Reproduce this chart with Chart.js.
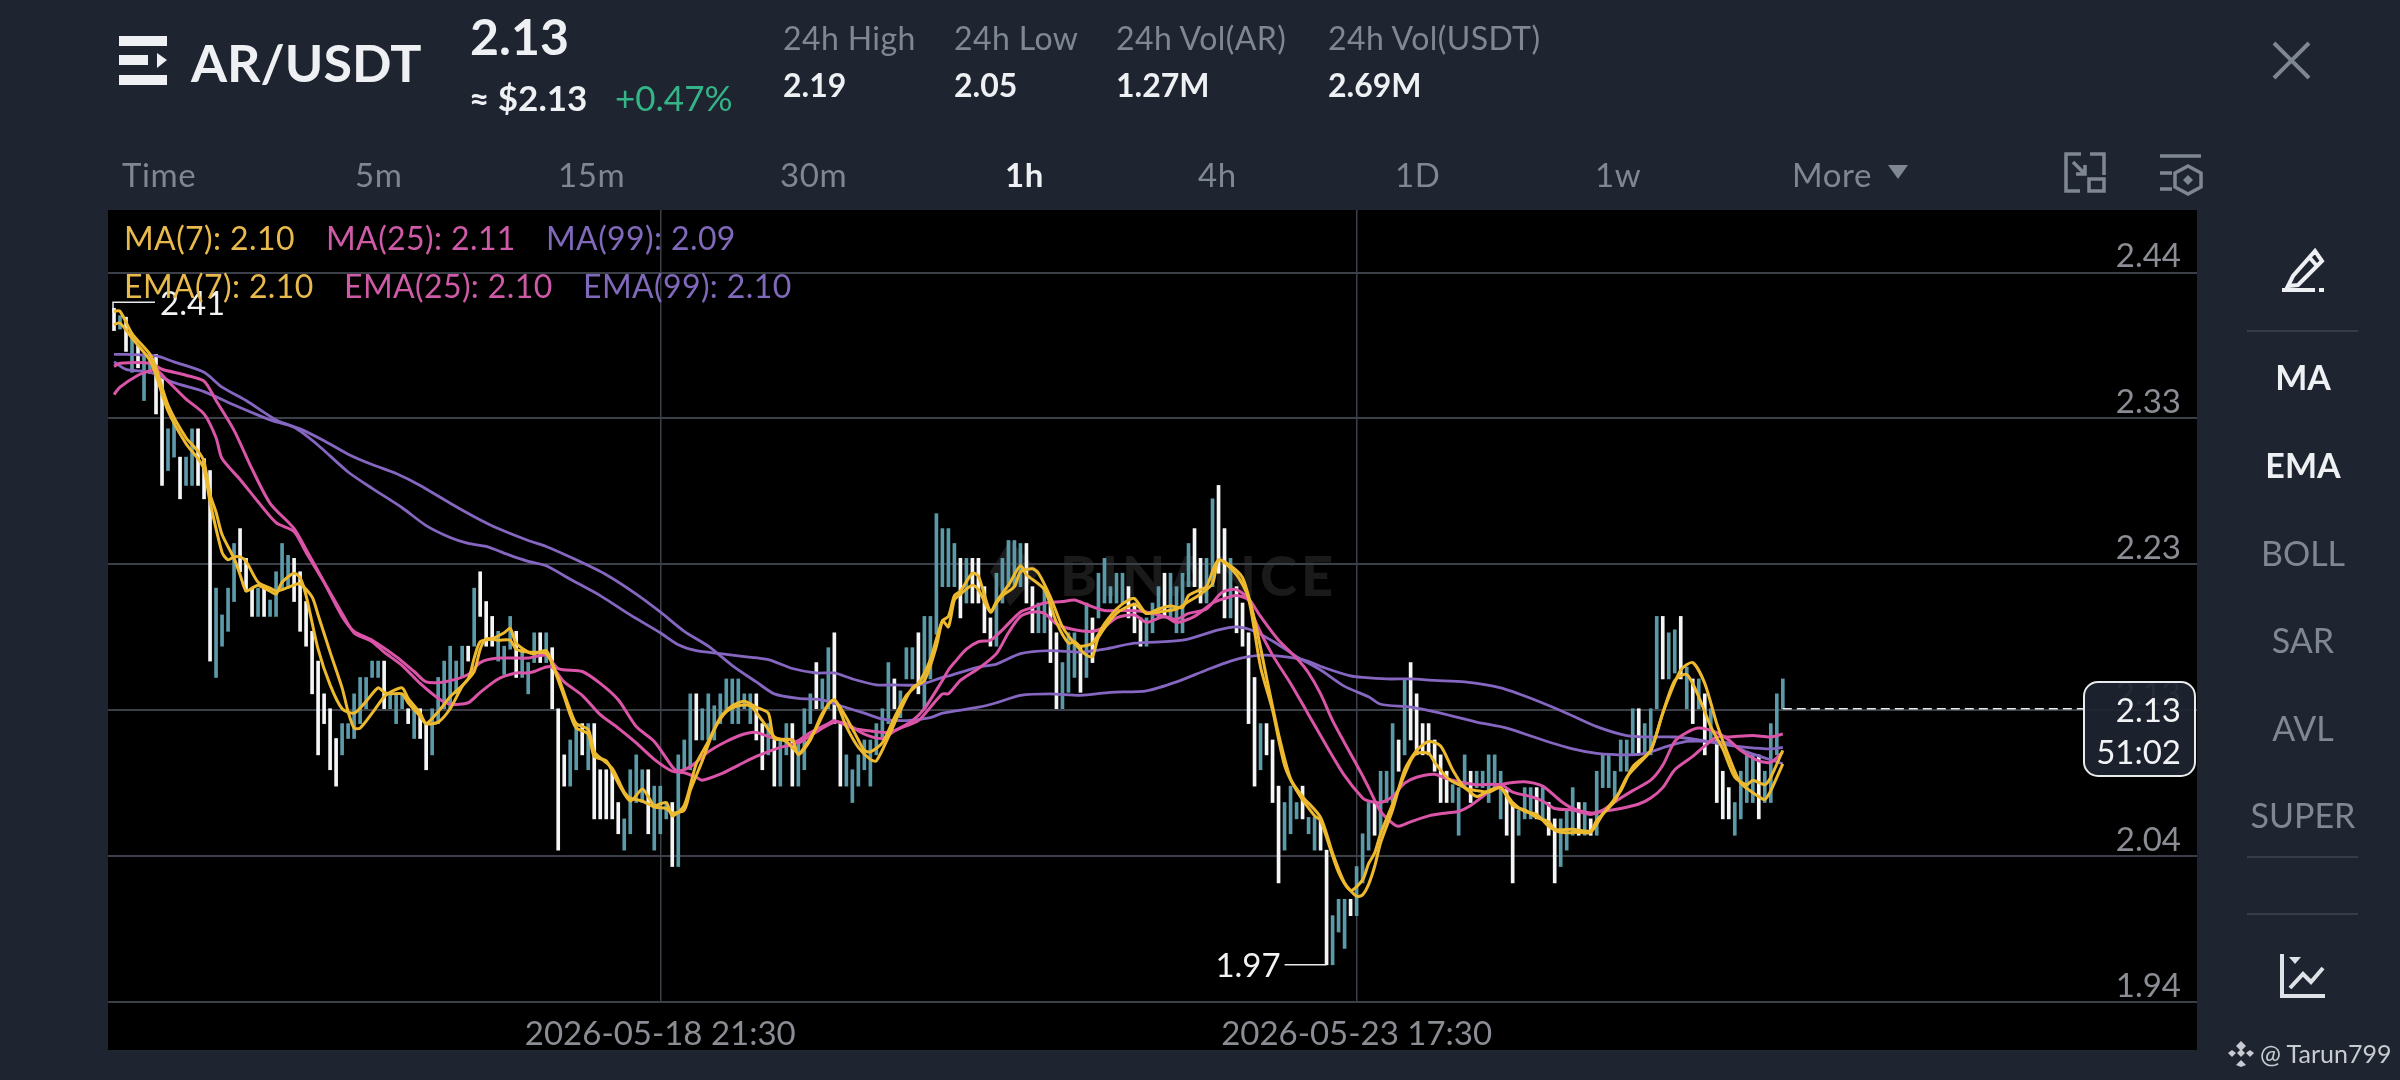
<!DOCTYPE html>
<html>
<head>
<meta charset="utf-8">
<title>AR/USDT</title>
<script src="https://cdn.jsdelivr.net/npm/chart.js@4/dist/chart.umd.min.js"></script>
<style>
html, body { margin: 0; padding: 0; width: 2400px; height: 1080px; overflow: hidden; background: #1e2530; font-family: Lato, "Open Sans", sans-serif; }
.t { position: absolute; white-space: nowrap; transform: translateY(-50%); line-height: 1; }
.gray { color: #7f8793; }
.white { color: #eef0f3; }
.tab { font-size: 33px; color: #7f8793; letter-spacing: 0.6px; }
.side { font-size: 34px; color: #7f8793; width: 160px; left: 2223px; text-align: center; }
.head { font-size: 32px; color: #7f8793; letter-spacing: 0.4px; }
.val { font-size: 32px; color: #eef0f3; font-weight: 700; }
.leg { font-size: 32px; letter-spacing: 0.4px; }
#plotBg { position: absolute; left: 108px; top: 210px; width: 2089px; height: 840px; background: #000; }
#mark { position: absolute; left: 1060px; top: 575px; font-size: 56px; font-weight: 900; color: #1a1a1a; letter-spacing: 4px; }
#plot { position: absolute; left: 108px; top: 210px; }
#priceBox { position: absolute; left: 2083px; top: 681px; width: 113px; height: 96px; box-sizing: border-box; border: 2px solid #e8eaec; border-radius: 15px; background: rgba(30,37,48,0.93); color: #f2f3f5; font-size: 33px; text-align: right; padding: 5px 13px 0 0; line-height: 42px; }
svg.icons { position: absolute; left: 0; top: 0; }
</style>
</head>
<body>
<div id="plotBg"></div>
<svg class="icons" width="2400" height="1080">
  <path d="M990 572 L1010 540 L1040 572 L1010 606 Z" fill="#1a1a1a"/>
</svg>
<div class="t" id="mark">BINANCE</div>
<canvas id="plot" width="2089" height="840"></canvas>

<svg class="icons" width="2400" height="1080">
  <g fill="#eef0f3">
    <rect x="119" y="36" width="48" height="10"/><rect x="119" y="55" width="29" height="10"/><rect x="119" y="75" width="48" height="10"/>
    <path d="M157 53 L167 60 L157 68 Z"/>
  </g>
  <path d="M2274 43 L2309 78 M2309 43 L2274 78" stroke="#7f8793" stroke-width="4" fill="none"/>
  <path d="M1888 165 H1908 L1898 179 Z" fill="#7f8793"/>
  <g fill="none" stroke="#7f8793" stroke-width="3.5">
    <path d="M2081 154 H2066 V191 H2080 M2090 154 H2104 V175"/>
    <rect x="2089" y="179" width="15" height="12"/>
    <path d="M2073 162 L2085 174 M2085 165 V174 H2076"/>
    <path d="M2160 156 H2201"/>
    <path d="M2160 173 H2172 M2160 189 H2172"/>
    <path d="M2188 166 L2201 173 V187 L2188 194 L2175 187 V173 Z"/>
  </g>
  <path d="M2188 175 L2193 180 L2188 185 L2183 180 Z" fill="#7f8793"/>
  <g fill="none" stroke="#eef0f3" stroke-width="4">
    <path d="M2293 276 L2288 286 L2298 285 L2322 261 L2315 251 Z"/>
    <path d="M2309 257 L2318 267"/>
  </g>
  <path d="M2282 290 H2315 M2319 290 H2324" stroke="#eef0f3" stroke-width="4"/>
  <path d="M2247 331 H2358 M2247 857 H2358 M2247 914 H2358" stroke="#363d48" stroke-width="2"/>
  <g fill="none" stroke="#dfe2e6" stroke-width="4">
    <path d="M2282 954 V996 H2325"/>
    <path d="M2290 988 L2303 974 L2311 982 L2323 968"/>
  </g>
  <path d="M2289 957 H2301 L2295 964 Z" fill="#dfe2e6"/>
  <g fill="#c8cbd0">
    <path d="M2241 1041 L2246 1046 L2241 1051 L2236 1046 Z"/>
    <path d="M2241 1060 L2246 1065 L2241 1067 L2236 1065 Z"/>
    <path d="M2232 1050 L2236 1053 L2232 1057 L2228 1053 Z"/>
    <path d="M2250 1050 L2254 1053 L2250 1057 L2246 1053 Z"/>
    <path d="M2241 1049 L2245 1053 L2241 1057 L2237 1053 Z"/>
  </g>
</svg>

<div class="t white" style="left:191px;top:62px;font-size:52px;font-weight:700;">AR/USDT</div>
<div class="t white" style="left:470px;top:36px;font-size:50px;font-weight:700;">2.13</div>
<div class="t white" style="left:469px;top:97px;font-size:35px;font-weight:700;">≈ $2.13</div>
<div class="t" style="left:615px;top:97px;font-size:35px;color:#35b587;">+0.47%</div>

<div class="t head" style="left:783px;top:38px;">24h High</div>
<div class="t val" style="left:783px;top:85px;">2.19</div>
<div class="t head" style="left:954px;top:38px;">24h Low</div>
<div class="t val" style="left:954px;top:85px;">2.05</div>
<div class="t head" style="left:1116px;top:38px;">24h Vol(AR)</div>
<div class="t val" style="left:1116px;top:85px;">1.27M</div>
<div class="t head" style="left:1328px;top:38px;">24h Vol(USDT)</div>
<div class="t val" style="left:1328px;top:85px;">2.69M</div>

<div class="t tab" style="left:122px;top:174px;">Time</div>
<div class="t tab" style="left:355px;top:174px;">5m</div>
<div class="t tab" style="left:558px;top:174px;">15m</div>
<div class="t tab" style="left:780px;top:174px;">30m</div>
<div class="t tab" style="left:1005px;top:174px;color:#eef0f3;font-weight:700;">1h</div>
<div class="t tab" style="left:1198px;top:174px;">4h</div>
<div class="t tab" style="left:1395px;top:174px;">1D</div>
<div class="t tab" style="left:1595px;top:174px;">1w</div>
<div class="t tab" style="left:1792px;top:174px;">More</div>

<div class="t leg" style="left:124px;top:238px;color:#e8b94c;">MA(7): 2.10</div>
<div class="t leg" style="left:326px;top:238px;color:#cf5aa8;">MA(25): 2.11</div>
<div class="t leg" style="left:546px;top:238px;color:#8068bb;">MA(99): 2.09</div>
<div class="t leg" style="left:124px;top:286px;color:#e8b94c;">EMA(7): 2.10</div>
<div class="t leg" style="left:344px;top:286px;color:#cf5aa8;">EMA(25): 2.10</div>
<div class="t leg" style="left:583px;top:286px;color:#8068bb;">EMA(99): 2.10</div>

<div id="priceBox">2.13<br>51:02</div>

<div class="t side" style="top:377px;color:#eef0f3;font-weight:700;">MA</div>
<div class="t side" style="top:465px;color:#eef0f3;font-weight:700;">EMA</div>
<div class="t side" style="top:553px;">BOLL</div>
<div class="t side" style="top:640px;">SAR</div>
<div class="t side" style="top:728px;">AVL</div>
<div class="t side" style="top:815px;">SUPER</div>
<div class="t" style="left:2260px;top:1053px;font-size:25px;color:#c8cbd0;">@ Tarun799</div>

<script>
// one hourly candle per slot
const candleHigh = [
  2.406,2.401,2.400,2.389,2.381,2.375,2.375,2.375,2.361,2.325,
  2.332,2.306,2.306,2.325,2.325,2.305,2.297,2.218,2.200,2.218,
  2.248,2.258,2.238,2.218,2.218,2.218,2.210,2.229,2.248,2.240,
  2.238,2.229,2.209,2.189,2.169,2.147,2.137,2.117,2.127,2.127,
  2.147,2.158,2.158,2.169,2.169,2.169,2.147,2.147,2.147,2.137,
  2.137,2.137,2.127,2.137,2.158,2.169,2.179,2.169,2.179,2.179,
  2.218,2.229,2.209,2.199,2.189,2.179,2.199,2.189,2.177,2.168,
  2.188,2.188,2.188,2.178,2.137,2.106,2.116,2.127,2.127,2.127,
  2.127,2.096,2.096,2.096,2.074,2.063,2.096,2.106,2.096,2.096,
  2.085,2.085,2.074,2.074,2.106,2.116,2.147,2.147,2.137,2.147,
  2.139,2.147,2.157,2.157,2.157,2.147,2.147,2.147,2.127,2.127,
  2.116,2.116,2.127,2.127,2.116,2.137,2.147,2.168,2.157,2.178,
  2.188,2.127,2.106,2.096,2.106,2.116,2.116,2.127,2.137,2.168,
  2.157,2.149,2.178,2.178,2.188,2.199,2.199,2.268,2.258,2.258,
  2.248,2.238,2.238,2.238,2.238,2.219,2.198,2.228,2.238,2.250,
  2.250,2.248,2.248,2.219,2.208,2.219,2.208,2.188,2.168,2.188,
  2.188,2.179,2.208,2.198,2.228,2.238,2.219,2.228,2.228,2.219,
  2.208,2.198,2.198,2.208,2.219,2.228,2.228,2.219,2.228,2.248,
  2.258,2.238,2.238,2.278,2.287,2.258,2.238,2.219,2.208,2.188,
  2.158,2.127,2.127,2.116,2.085,2.074,2.085,2.074,2.085,2.064,
  2.064,2.062,2.042,1.998,2.009,2.009,2.009,2.031,2.053,2.074,
  2.074,2.095,2.095,2.127,2.116,2.157,2.168,2.147,2.127,2.127,
  2.116,2.106,2.095,2.086,2.084,2.106,2.095,2.095,2.095,2.106,
  2.106,2.095,2.083,2.074,2.069,2.084,2.084,2.084,2.084,2.074,
  2.063,2.063,2.069,2.084,2.074,2.074,2.063,2.095,2.106,2.106,
  2.095,2.116,2.116,2.137,2.137,2.127,2.137,2.199,2.199,2.188,
  2.190,2.199,2.165,2.157,2.157,2.147,2.137,2.116,2.095,2.084,
  2.074,2.095,2.106,2.106,2.106,2.095,2.127,2.147,2.157
];
const candleLow = [
  2.391,2.392,2.377,2.363,2.366,2.344,2.362,2.335,2.287,2.297,
  2.306,2.278,2.287,2.287,2.287,2.278,2.169,2.158,2.179,2.189,
  2.209,2.229,2.216,2.199,2.199,2.199,2.199,2.199,2.218,2.218,
  2.209,2.189,2.179,2.147,2.106,2.127,2.096,2.085,2.106,2.117,
  2.117,2.127,2.137,2.158,2.158,2.137,2.137,2.127,2.137,2.127,
  2.117,2.117,2.096,2.106,2.127,2.137,2.137,2.147,2.158,2.169,
  2.179,2.199,2.179,2.179,2.169,2.160,2.177,2.158,2.158,2.147,
  2.168,2.168,2.168,2.137,2.042,2.085,2.085,2.096,2.106,2.096,
  2.063,2.063,2.063,2.063,2.053,2.042,2.053,2.074,2.074,2.053,
  2.042,2.053,2.063,2.031,2.031,2.096,2.096,2.116,2.116,2.116,
  2.116,2.127,2.137,2.127,2.127,2.137,2.127,2.116,2.096,2.106,
  2.085,2.085,2.106,2.085,2.085,2.096,2.127,2.137,2.137,2.137,
  2.127,2.085,2.085,2.074,2.085,2.096,2.085,2.106,2.116,2.127,
  2.137,2.131,2.157,2.157,2.147,2.137,2.157,2.187,2.219,2.219,
  2.219,2.198,2.208,2.208,2.208,2.188,2.179,2.179,2.208,2.219,
  2.219,2.219,2.208,2.188,2.188,2.188,2.168,2.137,2.137,2.148,
  2.158,2.148,2.158,2.168,2.198,2.208,2.208,2.208,2.208,2.198,
  2.188,2.179,2.179,2.188,2.198,2.198,2.198,2.188,2.188,2.219,
  2.219,2.208,2.208,2.219,2.228,2.198,2.198,2.188,2.179,2.127,
  2.085,2.096,2.106,2.074,2.020,2.042,2.053,2.063,2.063,2.053,
  2.042,2.042,1.965,1.965,1.987,1.976,1.998,1.998,2.020,2.042,
  2.052,2.052,2.074,2.074,2.095,2.106,2.116,2.106,2.106,2.106,
  2.095,2.074,2.074,2.074,2.052,2.084,2.074,2.084,2.084,2.074,
  2.084,2.063,2.052,2.020,2.052,2.063,2.063,2.063,2.063,2.052,
  2.020,2.031,2.042,2.052,2.052,2.052,2.052,2.052,2.084,2.084,
  2.074,2.095,2.095,2.106,2.106,2.106,2.106,2.137,2.157,2.157,
  2.161,2.157,2.137,2.127,2.137,2.106,2.116,2.074,2.063,2.063,
  2.052,2.063,2.074,2.074,2.063,2.074,2.074,2.106,2.137
];
// 1 = teal (up), 0 = white (down)
const candleUp = [
  0,1,0,1,0,1,1,0,0,1, 1,0,1,1,0,0,0,1,1,1, 1,0,0,0,1,0,1,1,1,1, 0,0,0,0,0,0,0,0,1,1,
  1,1,1,1,1,0,1,1,1,0, 1,0,0,1,1,1,1,1,1,0, 1,0,0,0,1,1,1,0,1,1, 1,0,1,0,0,0,1,1,0,1,
  0,0,0,0,0,1,1,1,1,0, 1,1,1,0,1,1,1,0,1,1, 1,1,1,1,1,1,1,0,0,1, 0,1,1,0,1,1,1,0,1,1,
  0,0,1,1,1,1,1,1,1,1, 0,1,1,1,0,1,1,1,1,1, 1,0,1,0,0,0,0,1,1,1, 1,1,0,0,1,1,0,0,1,1,
  1,0,1,0,1,1,1,1,1,0, 0,0,1,1,1,0,1,1,1,1, 0,0,1,1,0,0,1,0,0,0, 0,1,0,0,0,1,1,1,0,1,
  1,0,0,1,1,1,0,1,1,1, 0,1,1,1,0,1,0,0,0,0, 0,0,0,1,1,1,0,1,1,1, 1,1,0,0,1,1,1,0,1,0,
  0,1,1,1,0,1,0,1,1,1, 1,1,1,1,0,1,1,1,0,1, 1,0,1,0,1,0,1,0,0,0, 1,1,1,1,0,1,1,1,1
];

// indicator lines, read at the candle slots where they bend
const ma7Index = [0,1,3,6,7,9,12,14,15,16,17,18,20,21,22,23,24,25,26,27,28,30,31,32,34,36,38,40,42,44,45,46,48,49,51,52,54,56,59,60,61,63,65,66,67,69,
  70,72,73,75,76,77,79,80,82,84,86,88,89,90,92,93,95,97,99,101,103,105,107,109,110,113,114,116,118,120,122,124,126,127,129,131,133,135,137,138,
  139,140,141,143,144,146,147,149,151,152,155,157,159,160,161,163,165,167,169,170,172,174,176,178,179,181,182,184,187,189,191,193,195,197,200,201,204,206,208,
  209,210,211,213,214,216,217,219,220,222,223,225,227,229,231,233,235,237,239,240,243,246,247,250,252,254,256,258,260,262,264,266,268,270,272,273,275,276,278];
const ma7Values = [2.404,2.404,2.389,2.375,2.366,2.341,2.319,2.310,2.303,2.281,2.269,2.254,2.238,2.227,2.216,2.218,2.220,2.218,2.216,2.214,2.222,2.228,2.225,2.213,2.177,2.153,2.137,2.134,2.142,2.151,2.148,2.147,2.147,2.141,2.132,2.127,2.135,2.145,2.157,2.171,2.182,2.184,2.188,2.191,2.181,2.175,
  2.174,2.176,2.167,2.145,2.133,2.124,2.120,2.105,2.102,2.087,2.075,2.083,2.078,2.072,2.074,2.065,2.072,2.100,2.115,2.131,2.139,2.142,2.138,2.134,2.117,2.116,2.106,2.116,2.134,2.143,2.125,2.111,2.103,2.102,2.118,2.136,2.151,2.156,2.179,2.196,
  2.199,2.213,2.216,2.228,2.226,2.202,2.209,2.220,2.233,2.227,2.217,2.195,2.181,2.182,2.179,2.181,2.194,2.204,2.210,2.211,2.201,2.204,2.206,2.205,2.213,2.217,2.219,2.237,2.227,2.211,2.165,2.136,2.099,2.082,2.065,2.062,2.027,2.015,2.022,
  2.033,2.040,2.053,2.073,2.083,2.102,2.107,2.107,2.101,2.091,2.088,2.084,2.078,2.082,2.084,2.072,2.069,2.064,2.061,2.056,2.056,2.055,2.062,2.075,2.091,2.100,2.109,2.134,2.156,2.160,2.145,2.125,2.110,2.091,2.086,2.089,2.086,2.091,2.109];

const ema7Index = [0,1,3,6,7,9,12,14,15,16,18,19,20,21,22,24,26,27,28,30,31,33,34,36,38,39,40,41,43,45,46,48,49,51,52,54,56,58,60,61,62,64,66,67,69,
  72,74,76,77,79,80,81,83,85,86,88,90,92,93,95,96,98,100,102,104,106,108,110,112,114,115,117,119,120,122,124,125,126,128,130,132,134,136,138,
  139,140,141,143,144,146,147,148,150,151,153,154,156,158,160,162,163,164,167,170,172,174,177,179,181,183,184,186,188,190,192,194,196,198,201,203,205,207,208,
  209,210,211,213,215,217,219,221,223,225,227,229,231,233,235,237,239,241,244,246,248,251,253,256,258,261,263,265,267,269,271,274,275,276,278];
const ema7Values = [2.395,2.396,2.386,2.371,2.361,2.337,2.315,2.305,2.298,2.276,2.242,2.237,2.239,2.239,2.236,2.222,2.218,2.216,2.217,2.220,2.221,2.212,2.200,2.175,2.151,2.135,2.124,2.124,2.134,2.145,2.148,2.151,2.144,2.134,2.127,2.128,2.137,2.152,2.162,2.177,2.184,2.183,2.183,2.177,2.175,
  2.174,2.158,2.136,2.127,2.123,2.108,2.104,2.097,2.081,2.077,2.075,2.071,2.070,2.067,2.069,2.082,2.102,2.123,2.135,2.139,2.139,2.129,2.118,2.115,2.107,2.111,2.124,2.140,2.143,2.131,2.116,2.109,2.108,2.114,2.131,2.146,2.154,2.170,2.196,
  2.192,2.210,2.214,2.220,2.217,2.202,2.208,2.213,2.219,2.229,2.231,2.228,2.212,2.192,2.181,2.173,2.172,2.185,2.201,2.207,2.201,2.202,2.204,2.209,2.214,2.221,2.237,2.233,2.225,2.197,2.158,2.120,2.090,2.078,2.064,2.040,2.020,2.011,2.012,
  2.019,2.031,2.047,2.069,2.096,2.109,2.115,2.112,2.096,2.084,2.082,2.081,2.084,2.074,2.068,2.066,2.058,2.054,2.054,2.054,2.066,2.082,2.098,2.109,2.134,2.163,2.168,2.154,2.127,2.105,2.087,2.078,2.076,2.082,2.100];

const ma25Index = [0,1,6,8,12,15,17,20,23,26,30,32,35,38,40,43,47,50,52,55,59,61,64,69,
  72,74,78,81,84,87,90,93,94,96,99,102,105,107,110,113,114,116,120,122,125,128,130,133,135,138,
  139,140,142,144,146,148,151,153,155,158,160,162,165,169,172,175,177,179,182,184,185,187,189,191,194,197,199,201,203,205,208,
  209,211,213,214,216,219,222,224,226,229,231,235,238,241,243,246,248,251,254,256,258,260,263,265,267,269,273,276,278];
const ma25Values = [2.367,2.369,2.369,2.365,2.361,2.357,2.344,2.324,2.298,2.275,2.258,2.244,2.222,2.199,2.189,2.183,2.172,2.162,2.155,2.155,2.160,2.168,2.171,2.171,
  2.173,2.164,2.162,2.154,2.143,2.125,2.115,2.098,2.095,2.098,2.108,2.115,2.120,2.121,2.117,2.116,2.114,2.119,2.128,2.127,2.120,2.117,2.122,2.129,2.137,2.156,
  2.163,2.168,2.177,2.182,2.183,2.190,2.202,2.205,2.208,2.209,2.210,2.207,2.203,2.203,2.202,2.199,2.197,2.201,2.204,2.213,2.216,2.217,2.211,2.199,2.183,2.171,2.161,2.147,2.129,2.114,2.092,
  2.084,2.068,2.060,2.058,2.061,2.065,2.067,2.068,2.072,2.081,2.086,2.088,2.085,2.075,2.070,2.067,2.068,2.070,2.073,2.077,2.084,2.096,2.105,2.112,2.118,2.118,2.119,2.118,2.120];

const ema25Index = [0,1,4,6,7,9,12,15,17,18,21,24,27,30,32,35,38,40,43,45,48,51,54,56,59,61,64,67,69,
  70,72,73,75,78,81,84,87,90,93,95,97,98,101,104,107,111,113,116,119,120,123,126,129,131,134,136,138,
  139,141,144,147,149,151,153,155,157,160,163,165,167,170,172,175,177,180,183,185,187,189,190,193,196,199,202,205,208,
  209,211,213,215,217,220,222,224,227,231,233,236,238,240,243,246,248,251,253,256,258,260,262,264,267,269,271,274,276,278];
const ema25Values = [2.348,2.353,2.361,2.364,2.365,2.357,2.345,2.335,2.319,2.305,2.291,2.276,2.262,2.256,2.242,2.222,2.201,2.188,2.182,2.175,2.166,2.154,2.144,2.140,2.141,2.148,2.157,2.161,2.161,
  2.162,2.165,2.165,2.155,2.146,2.133,2.124,2.114,2.103,2.095,2.094,2.091,2.089,2.093,2.099,2.105,2.111,2.113,2.121,2.127,2.129,2.124,2.122,2.121,2.124,2.129,2.138,2.147,
  2.147,2.156,2.164,2.174,2.188,2.199,2.202,2.201,2.194,2.190,2.189,2.192,2.198,2.200,2.195,2.199,2.195,2.199,2.208,2.211,2.213,2.210,2.197,2.173,2.154,2.133,2.112,2.092,2.077,
  2.075,2.074,2.078,2.087,2.091,2.093,2.090,2.088,2.086,2.086,2.081,2.078,2.075,2.070,2.069,2.066,2.069,2.077,2.082,2.089,2.099,2.115,2.121,2.124,2.121,2.116,2.109,2.102,2.101,2.108];

const ma99Index = [0,2,7,10,15,18,22,27,31,35,39,43,47,51,56,60,64,69,72,77,82,87,91,95,99,103,107,110,114,118,121,125,128,132,136,138,
  144,147,151,156,161,166,172,177,182,186,189,192,198,202,206,208,212,216,220,225,231,236,242,247,252,256,260,264,268,272,276,278];
const ma99Values = [2.375,2.375,2.374,2.370,2.363,2.353,2.344,2.331,2.325,2.317,2.308,2.301,2.295,2.287,2.275,2.266,2.258,2.250,2.246,2.237,2.227,2.214,2.202,2.189,2.179,2.166,2.155,2.147,2.144,2.143,2.139,2.134,2.130,2.129,2.131,2.134,
  2.138,2.141,2.146,2.147,2.146,2.148,2.149,2.155,2.163,2.169,2.172,2.173,2.170,2.164,2.159,2.158,2.157,2.157,2.156,2.155,2.151,2.144,2.134,2.125,2.119,2.118,2.118,2.116,2.113,2.111,2.110,2.111];

const ema99Index = [0,2,6,10,15,20,26,30,34,39,43,48,52,56,59,62,66,69,72,76,81,86,91,94,97,101,105,109,113,117,120,123,127,130,134,138,
  139,144,147,151,156,161,165,170,178,184,187,190,194,197,201,205,209,211,216,221,227,232,238,243,247,252,255,259,262,266,269,272,278];
const ema99Values = [2.370,2.365,2.363,2.356,2.350,2.341,2.331,2.326,2.314,2.296,2.285,2.272,2.260,2.252,2.248,2.246,2.240,2.236,2.233,2.224,2.213,2.200,2.188,2.180,2.176,2.174,2.172,2.170,2.164,2.161,2.161,2.157,2.153,2.153,2.153,2.158,
  2.159,2.165,2.167,2.174,2.176,2.175,2.177,2.181,2.183,2.190,2.192,2.189,2.180,2.172,2.163,2.152,2.145,2.140,2.138,2.134,2.128,2.124,2.116,2.110,2.107,2.106,2.107,2.112,2.115,2.115,2.114,2.108,2.100];

// axis
const yTickValues = [1.94, 2.038, 2.136, 2.234, 2.332, 2.43];
const yTickLabels = ["1.94", "2.04", "2.13", "2.23", "2.33", "2.44"];
const xTickIndex = [91, 207];
const xTickLabels = ["2026-05-18 21:30", "2026-05-23 17:30"];

// price markers
const lastPrice = 2.137;
const lastIndex = 278;
const lastLineEnd = 328;
const highMark = { index: 0, value: 2.41, label: "2.41" };
const lowMark = { index: 202, value: 1.965, label: "1.97" };

const TEAL = "#5b9aa9";
const WHITE = "#f4f5f6";
const YELLOW = "#edb92e";
const PINK = "#da54a8";
const PURPLE = "#8566c0";
const GRID = "#3b3f47";
const AXIS_TEXT = "#8a8d93";

function linePoints(index, values) {
    return index.map((x, i) => ({ x: x, y: values[i] }));
}

function lineSet(index, values, color, width) {
    return {
        type: "line",
        data: linePoints(index, values),
        borderColor: color,
        borderWidth: width,
        pointRadius: 0,
        tension: 0.25,
        fill: false
    };
}

const priceMarks = {
    id: "priceMarks",
    afterDatasetsDraw(chart) {
        const c = chart.ctx;
        const x = chart.scales.x;
        const y = chart.scales.y;
        c.save();
        c.strokeStyle = "#e8eaec";
        c.fillStyle = "#f2f3f5";
        c.lineWidth = 1.5;
        c.font = "33px Lato";
        c.textBaseline = "middle";

        let px = x.getPixelForValue(highMark.index);
        let py = y.getPixelForValue(highMark.value);
        c.beginPath();
        c.moveTo(px - 1, py + 10);
        c.lineTo(px - 1, py);
        c.lineTo(px + 41, py);
        c.stroke();
        c.textAlign = "left";
        c.fillText(highMark.label, px + 46, py + 2);

        px = x.getPixelForValue(lowMark.index);
        py = y.getPixelForValue(lowMark.value);
        c.beginPath();
        c.moveTo(px, py);
        c.lineTo(px - 42, py);
        c.stroke();
        c.textAlign = "right";
        c.fillText(lowMark.label, px - 46, py + 2);
        c.restore();
    }
};

new Chart(document.getElementById("plot"), {
    data: {
        datasets: [
            lineSet(ma7Index, ma7Values, YELLOW, 3),
            lineSet(ema7Index, ema7Values, YELLOW, 3),
            lineSet(ma25Index, ma25Values, PINK, 3),
            lineSet(ema25Index, ema25Values, PINK, 3),
            lineSet(ma99Index, ma99Values, PURPLE, 2.8),
            lineSet(ema99Index, ema99Values, PURPLE, 2.8),
            {
                type: "line",
                data: [{ x: lastIndex, y: lastPrice }, { x: lastLineEnd, y: lastPrice }],
                borderColor: "#e8eaec",
                borderWidth: 1.5,
                borderDash: [9, 5],
                pointRadius: 0
            },
            {
                type: "bar",
                data: candleHigh.map((h, i) => ({ x: i, y: [candleLow[i], h] })),
                backgroundColor: candleUp.map((u) => (u ? TEAL : WHITE)),
                barThickness: 3,
                borderWidth: 0,
                grouped: false
            }
        ]
    },
    options: {
        responsive: false,
        animation: false,
        events: [],
        layout: { padding: 0 },
        plugins: { legend: { display: false }, tooltip: { enabled: false } },
        scales: {
            x: {
                type: "linear",
                offset: false,
                min: -1,
                max: 347,
                afterBuildTicks(scale) {
                    scale.ticks = xTickIndex.map((v) => ({ value: v }));
                },
                afterFit(scale) {
                    scale.height = 48;
                    scale.paddingLeft = 0;
                    scale.paddingRight = 0;
                },
                grid: { color: GRID, lineWidth: 1.5, drawTicks: false, offset: false },
                border: { display: false },
                ticks: {
                    autoSkip: false,
                    maxRotation: 0,
                    padding: 13,
                    color: AXIS_TEXT,
                    font: { family: "Lato", size: 33 },
                    callback(value) {
                        return xTickLabels[xTickIndex.indexOf(value)];
                    }
                }
            },
            y: {
                type: "linear",
                position: "right",
                min: 1.94,
                max: 2.472,
                afterBuildTicks(scale) {
                    scale.ticks = yTickValues.map((v) => ({ value: v }));
                },
                afterFit(scale) {
                    scale.width = 0;
                    scale.paddingTop = 0;
                    scale.paddingBottom = 0;
                },
                grid: { color: GRID, lineWidth: 2, drawTicks: false },
                border: { display: false },
                ticks: {
                    mirror: true,
                    padding: -16,
                    labelOffset: -16,
                    color: AXIS_TEXT,
                    font: { family: "Lato", size: 33 },
                    callback(value) {
                        return yTickLabels[yTickValues.indexOf(value)];
                    }
                }
            }
        }
    },
    plugins: [priceMarks]
});
</script>
</body>
</html>
